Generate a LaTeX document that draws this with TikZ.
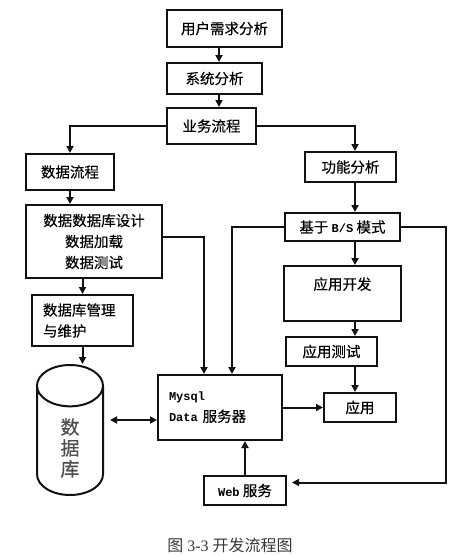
\documentclass[tikz,border=0pt]{standalone}
\usepackage{fontspec}
\usepackage{tikz}
\usetikzlibrary{positioning,calc,arrows.meta,shapes.geometric}
\setmainfont{Liberation Serif}
\setmonofont{Liberation Mono}
\newfontfamily\cjk[FakeBold=0.3]{Noto Sans CJK SC}
\newfontfamily\cjkplain{Noto Sans CJK SC}
\definecolor{inkline}{RGB}{18,18,18}
\definecolor{dbtext}{RGB}{78,78,78}
\definecolor{captext}{RGB}{55,55,55}

\begin{document}
\begin{tikzpicture}[x=1pt, y=-1pt, stepbox/.style={draw=inkline, line width=2pt, inner sep=0pt, align=center, font=\cjk\fontsize{14.5}{21}\selectfont}, arrow/.style={-{Triangle[length=7pt,width=7pt]}, draw=inkline, line width=2pt}, dblarrow/.style={{Triangle[length=7pt,width=7pt]}-{Triangle[length=7pt,width=7pt]}, draw=inkline, line width=2pt}]
\useasboundingbox (0,0) rectangle (474,557);
\coordinate (mcol) at (219,0);
\coordinate (rcol) at (355,0);
\coordinate (rim) at (446,0);
\node[stepbox, minimum width=115pt, minimum height=37pt] (req) at (224.5,28.5) {用户需求分析};
\node[stepbox, minimum width=95pt, minimum height=31pt] (sys) at (214.5,78.5) {系统分析};
\draw[arrow] (req.south -| mcol) -- (sys.north -| mcol);
\node[stepbox, minimum width=89pt, minimum height=36pt] (biz) at (211.5,126) {业务流程};
\draw[arrow] (sys.south -| mcol) -- (biz.north -| mcol);
\node[stepbox, minimum width=88pt, minimum height=36pt] (flow) at (70,172) {数据流程};
\draw[arrow] (biz.west) -| (flow.north);
\node[stepbox, minimum width=91pt, minimum height=30pt] (func) at (350.5,167) {功能分析};
\draw[arrow] (biz.east) -| (func.north -| rcol);
\node[stepbox, minimum width=136pt, minimum height=73pt] (dbdesign) at (94,241.5) {数据数据库设计\\数据加载\\数据测试};
\draw[arrow] (flow.south) -- (flow.south |- dbdesign.north);
\node[stepbox, align=left, text width=79pt, minimum width=101pt, minimum height=51pt] (dbmgmt) at (82.5,320.5) {数据库管理\\与维护};
\draw[arrow] (dbdesign.south -| dbmgmt.north) -- (dbmgmt.north);
\node[cylinder, shape border rotate=90, draw=inkline, line width=2pt, minimum width=66pt, minimum height=130pt, aspect=6.2, anchor=shape center] (db) at (70,430) {};
\node[font=\cjk\fontsize{19}{21}\selectfont, text=dbtext, align=center] (dbname) at (70,448) {数\\据\\库};
\draw[arrow] (dbmgmt.south) -- (dbmgmt.south |- db.north);
\node[stepbox, minimum width=115pt, minimum height=28pt] (bs) at (342.5,227) {基于 {\ttfamily\bfseries\fontsize{12}{14}\selectfont B/S} 模式};
\draw[arrow] (func.south -| rcol) -- (bs.north -| rcol);
\node[stepbox, minimum width=117pt, minimum height=55pt, text depth=20pt] (appdev) at (342.5,293.5) {应用开发};
\draw[arrow] (bs.south -| rcol) -- (appdev.north -| rcol);
\node[stepbox, minimum width=91pt, minimum height=29pt] (apptest) at (331.5,351.5) {应用测试};
\draw[arrow] (appdev.south -| rcol) -- (apptest.north -| rcol);
\node[stepbox, align=left, text width=102pt, minimum width=124pt, minimum height=65pt] (mysql) at (220,407.5) {{\ttfamily\bfseries\fontsize{12}{14}\selectfont Mysql}\\{\ttfamily\bfseries\fontsize{12}{14}\selectfont Data} 服务器};
\draw[arrow] ([yshift=5pt]dbdesign.east) -| ([xshift=-16pt]mysql.north);
\draw[arrow] (bs.west) -| ([xshift=12pt]mysql.north);
\node[stepbox, minimum width=72pt, minimum height=29pt] (app) at (360,407.5) {应用};
\draw[arrow] (apptest.south -| rcol) -- (app.north -| rcol);
\draw[arrow] (mysql.east) -- (app.west);
\coordinate (dblink) at ([shift={(40pt,10pt)}]db.shape center);
\draw[dblarrow] (dblink) -- (dblink -| mysql.west);
\node[stepbox, minimum width=82pt, minimum height=29pt] (webs) at (245,490.5) {{\ttfamily\bfseries\fontsize{12}{14}\selectfont Web} 服务};
\draw[arrow] (webs.north) -- (webs.north |- mysql.south);
\draw[arrow, shorten >=5pt] (bs.east) -- (bs.east -| rim) |- ([yshift=8pt]webs.east);
\node[font=\fontsize{16}{18}\selectfont, text=captext] (caption) at (230,545) {{\cjkplain 图} 3-3 {\cjkplain 开发流程图}};
\end{tikzpicture}
\end{document}
